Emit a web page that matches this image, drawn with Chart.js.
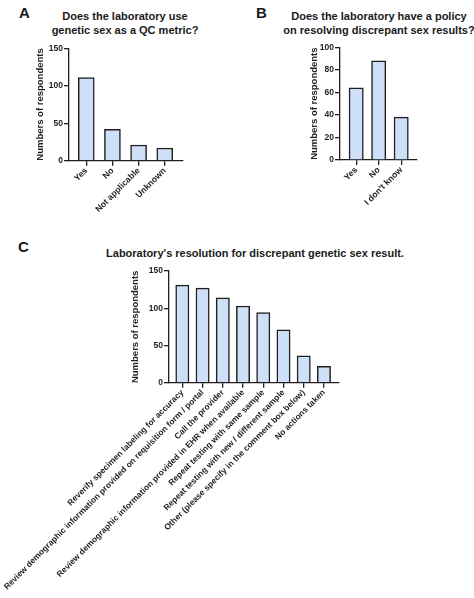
<!DOCTYPE html>
<html>
<head>
<meta charset="utf-8">
<script src="https://cdn.jsdelivr.net/npm/chart.js@4.4.1/dist/chart.umd.min.js"></script>
<style>
  body { margin: 0; width: 474px; height: 598px; background: #fff; position: relative; overflow: hidden;
         font-family: "Liberation Sans", Arial, sans-serif; color: #1a1a1a; }
  .box { position: absolute; }
  .letter { position: absolute; font-weight: bold; font-size: 15px; }
  .title { position: absolute; font-weight: bold; font-size: 11px; line-height: 13.5px; text-align: center; white-space: nowrap; }
</style>
</head>
<body>
<div class="letter" style="left:19px;top:4px;">A</div>
<div class="letter" style="left:256px;top:4px;">B</div>
<div class="letter" style="left:18px;top:238px;">C</div>

<div class="title" style="left:25px;width:200px;top:10px;">Does the laboratory use<br>genetic sex as a QC metric?</div>
<div class="title" style="left:279px;width:200px;top:10px;">Does the laboratory have a policy<br>on resolving discrepant sex results?</div>
<div class="title" style="left:55px;width:400px;top:247px;">Laboratory's resolution for discrepant genetic sex result.</div>

<div class="box" style="left:0;top:0;width:237px;height:230px;"><canvas id="chartA"></canvas></div>
<div class="box" style="left:237px;top:0;width:237px;height:230px;"><canvas id="chartB"></canvas></div>
<div class="box" style="left:0;top:230px;width:474px;height:368px;"><canvas id="chartC"></canvas></div>

<script>
  const qcLabels = ['Yes', 'No', 'Not applicable', 'Unknown'];
  const qcValues = [111, 42, 21, 17];

  const policyLabels = ['Yes', 'No', "I don't know"];
  const policyValues = [64, 88, 38];

  const resolutionLabels = [
    'Reverify specimen labeling for accuracy',
    'Review demographic information provided on requisition form / portal',
    'Call the provider',
    'Review demographic information provided in EHR when available',
    'Repeat testing with same sample',
    'Repeat testing with new / different sample',
    'Other (please specify in the comment box below)',
    'No actions taken'
  ];
  const resolutionValues = [131, 127, 114, 103, 94, 71, 36, 22];

  const ink = '#1f1f1f';
  const barFill = '#cde0f7';

  // GraphPad-style axes: the x axis runs a little past the first and last bar,
  // so the categories sit on a linear scale with a bit of slack at each end
  function makeChart(id, labels, values, opts) {
    const ctx = document.getElementById(id).getContext('2d');
    const points = values.map((v, i) => ({ x: i, y: v }));
    return new Chart(ctx, {
      type: 'bar',
      data: {
        datasets: [{
          data: points,
          backgroundColor: barFill,
          borderColor: ink,
          borderWidth: 1.5,
          borderSkipped: 'bottom',
          barThickness: opts.barPx
        }]
      },
      options: {
        responsive: true,
        maintainAspectRatio: false,
        animation: false,
        layout: { padding: opts.padding },
        plugins: { legend: { display: false }, tooltip: { enabled: false } },
        scales: {
          x: {
            type: 'linear',
            offset: false,
            bounds: 'data',
            min: opts.xMin,
            max: labels.length - 1 + opts.xOver,
            afterBuildTicks: function (scale) {
              scale.ticks = labels.map((l, i) => ({ value: i }));
            },
            grid: { drawOnChartArea: false, offset: false, color: ink, tickLength: 5, lineWidth: 1.3 },
            border: { color: ink, width: 1.3 },
            ticks: {
              stepSize: 1, includeBounds: false, color: ink, minRotation: 45, maxRotation: 45,
              autoSkip: false, padding: 0,
              font: { family: 'Liberation Sans', size: opts.xFont, weight: 'bold' },
              callback: function (value) { return labels[value]; }
            },
            afterFit: function (scale) {
              scale.height = opts.xHeight;
              scale.paddingLeft = 0;
              scale.paddingRight = 0;
            }
          },
          y: {
            min: 0,
            max: opts.yMax,
            ticks: {
              stepSize: opts.yStep, color: ink, padding: 1,
              font: { family: 'Liberation Sans', size: 8.5, weight: 'bold' }
            },
            grid: { drawOnChartArea: false, color: ink, tickLength: 5, lineWidth: 1.3 },
            border: { color: ink, width: 1.3 },
            title: {
              display: true, text: 'Numbers of respondents', color: ink, padding: 0,
              font: { family: 'Liberation Sans', size: 9.5, weight: 'bold' }
            },
            afterFit: function (scale) {
              scale.width = opts.yWidth;
              scale.paddingTop = 0;
              scale.paddingBottom = 0;
            }
          }
        }
      }
    });
  }

  makeChart('chartA', qcLabels, qcValues, {
    barPx: 16, xMin: -0.66, xOver: 0.67, xFont: 8.6, xHeight: 69.3,
    yMax: 150, yStep: 50, yWidth: 34.7,
    padding: { left: 34.3, right: 54.7, top: 48.3, bottom: 0 }
  });

  makeChart('chartB', policyLabels, policyValues, {
    barPx: 14.3, xMin: -0.72, xOver: 0.69, xFont: 8.6, xHeight: 70,
    yMax: 100, yStep: 20, yWidth: 31.7,
    padding: { left: 71.3, right: 57.3, top: 47.3, bottom: 0 }
  });

  makeChart('chartC', resolutionLabels, resolutionValues, {
    barPx: 13.3, xMin: -0.66, xOver: 0.71, xFont: 8.4, xHeight: 215.3,
    yMax: 150, yStep: 50, yWidth: 39.7,
    padding: { left: 129.3, right: 135.7, top: 41, bottom: 0 }
  });
</script>
</body>
</html>
